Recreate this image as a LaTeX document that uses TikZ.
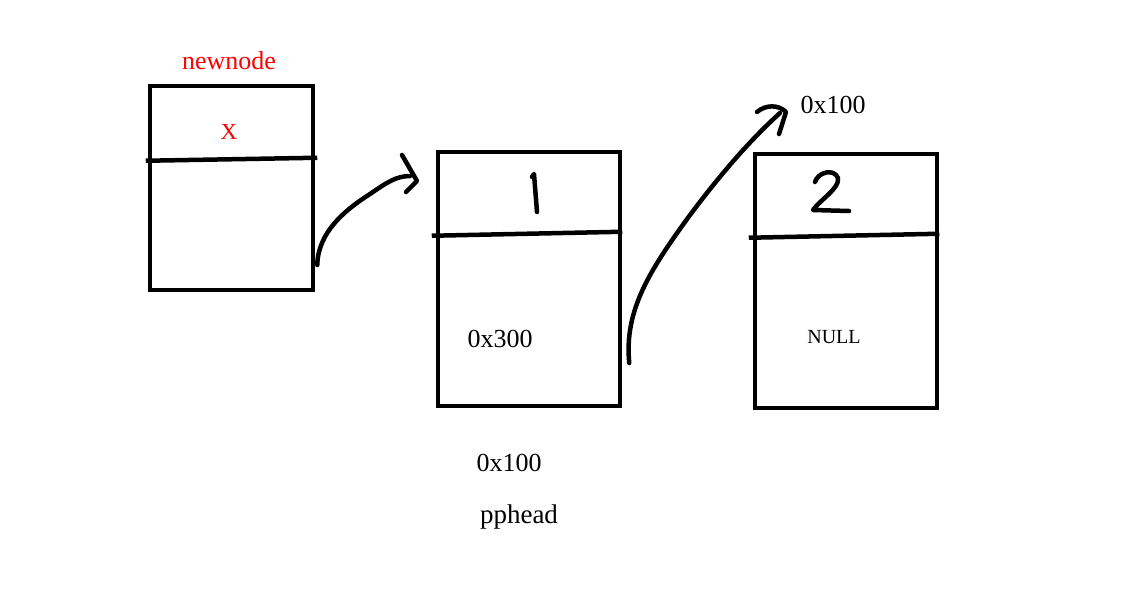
\documentclass[tikz,border=0pt]{standalone}
\usepackage{fontspec}
\setmainfont{Liberation Serif}
\usetikzlibrary{calc}
\begin{document}
\begin{tikzpicture}[x=1pt,y=-1pt,
  box/.style={draw=black,line width=4.5pt,rectangle,inner sep=0pt},
  ink/.style={draw=black,line width=4.5pt,line cap=round,line join=round},
  lbl/.style={inner sep=0pt,font=\fontsize{26}{28}\selectfont},
  redlbl/.style={lbl,text=red}]
\path[fill=white] (0,0) rectangle (1122,600);
\useasboundingbox (0,0) rectangle (1122,600);
% boxes
\node[box,minimum width=163pt,minimum height=204pt] (A) at (231.5,188) {};
\node[box,minimum width=182pt,minimum height=254pt] (B) at (529,279) {};
\node[box,minimum width=182pt,minimum height=254pt] (C) at (846,281) {};
% dividers
\draw[ink,line cap=butt] ($(A.north west)+(-2,77)$) -- ($(A.north east)+(2,74)$);
\draw[ink,line cap=butt] ($(B.north west)+(-4,86)$) -- ($(B.north east)+(0,82)$);
\draw[ink,line cap=butt] ($(C.north west)+(-4,86)$) -- ($(C.north east)+(0,82)$);
% labels
\node[redlbl] (nn) at (229,61) {newnode};
\node[redlbl,font=\fontsize{23}{25}\selectfont] (x) at (229,132) {X};
\node[lbl] (p300) at (500,339) {0x300};
\node[lbl] (p100) at (509,463) {0x100};
\node[lbl,font=\fontsize{27}{29}\selectfont] (ph) at (519,517) {pphead};
\node[lbl,font=\fontsize{20}{22}\selectfont] (nul) at (834,337) {NULL};
\node[lbl] (t100) at (833,105) {0x100};
% handwritten digits
\draw[ink] (532,177) -- (534,174) -- (537,212);
\draw[ink] (815,182) .. controls (818,172) and (834,168) .. (838,178) .. controls (840,188) and (820,200) .. (813,210) -- (849,211);
% arrow 1
\coordinate (a1s) at ($(A.east)+(2,77)$);
\coordinate (a1e) at (410,176);
\draw[ink] (a1s) .. controls (318,232) and (345,210) .. (370,194) .. controls (386,183) and (396,176) .. (a1e);
\draw[ink] (402,155) -- (417,181) -- (406,192);
% arrow 2
\coordinate (a2s) at ($(B.east)+(7,84)$);
\coordinate (a2e) at (780,113);
\draw[ink] (a2s) .. controls (624,310) and (650,270) .. (690,215) .. controls (720,175) and (750,140) .. (a2e);
\draw[ink] (757,112) .. controls (765,105) and (778,104) .. (786,112) -- (779,134);
\end{tikzpicture}
\end{document}
